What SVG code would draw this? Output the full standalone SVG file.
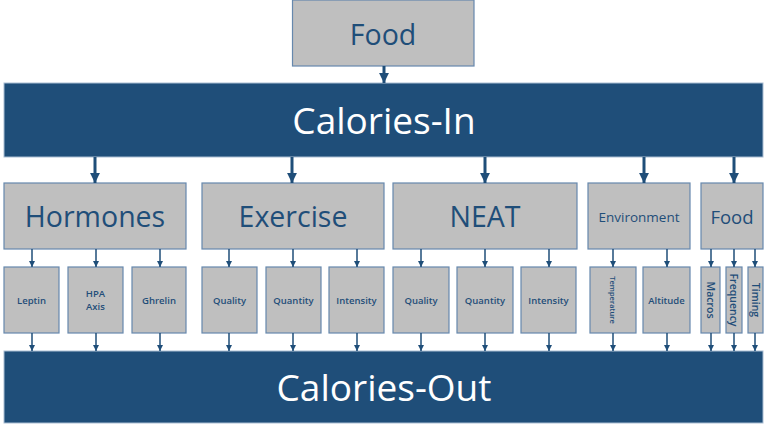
<svg xmlns="http://www.w3.org/2000/svg" width="768" height="439" viewBox="0 0 768 439">
<defs>
<style>
.box{fill:#bfbfbf;stroke:#6688ad;stroke-width:1.2}
.bar{fill:#1f4e79;stroke:#a9bdd3;stroke-width:1}
.t{font-family:"Open Sans","Liberation Sans",sans-serif;fill:#1f4e79;text-anchor:middle;font-weight:500}
.s{font-family:"Open Sans","Liberation Sans",sans-serif;fill:#1f4e79;text-anchor:middle;font-weight:600}
.w{font-family:"Open Sans","Liberation Sans",sans-serif;fill:#ffffff;text-anchor:middle;font-weight:500}
.big{stroke:#1f4e79;stroke-width:3;fill:none}
.sm{stroke:#1f4e79;stroke-width:1.5;fill:none}
</style>
<marker id="ab" viewBox="0 0 10 10" refX="10" refY="5" markerWidth="3.3" markerHeight="3.3" orient="auto" markerUnits="strokeWidth"><path d="M0,0L10,5L0,10z" fill="#1f4e79"/></marker>
<marker id="as" viewBox="0 0 10 10" refX="10" refY="5" markerWidth="4" markerHeight="4" orient="auto" markerUnits="strokeWidth"><path d="M0,0L10,5L0,10z" fill="#1f4e79"/></marker>
</defs>
<rect width="768" height="439" fill="#ffffff"/>
<g id="food-top"><rect class="box" x="292.5" y="0" width="181.5" height="66"/><text class="t" x="383" y="45" font-size="28.5">Food</text></g>
<g id="calories-in"><rect class="bar" x="4" y="83" width="759" height="74"/><text class="w" x="384" y="134" font-size="37">Calories-In</text></g>
<g id="hormones"><rect class="box" x="4" y="183" width="182" height="66"/><text class="t" x="95" y="227" font-size="28.5">Hormones</text></g>
<g id="exercise"><rect class="box" x="202" y="183" width="182" height="66"/><text class="t" x="293" y="227" font-size="28.5">Exercise</text></g>
<g id="neat"><rect class="box" x="393" y="183" width="184" height="66"/><text class="t" x="485" y="227" font-size="28.5">NEAT</text></g>
<g id="environment"><rect class="box" x="588" y="183" width="102" height="66"/><text class="t" x="639" y="222" font-size="13.5">Environment</text></g>
<g id="food"><rect class="box" x="701" y="183" width="62" height="66"/><text class="t" x="732" y="224" font-size="18.5">Food</text></g>
<g id="leptin"><rect class="box" x="4" y="267" width="55" height="66"/><text class="s" x="31.5" y="304" font-size="9.5">Leptin</text></g>
<g id="hpa"><rect class="box" x="68" y="267" width="55" height="66"/><text class="s" x="95.5" y="297" font-size="9.5">HPA</text><text class="s" x="95.5" y="310" font-size="9.5">Axis</text></g>
<g id="ghrelin"><rect class="box" x="132" y="267" width="54" height="66"/><text class="s" x="159" y="304" font-size="9.5">Ghrelin</text></g>
<g id="ex-quality"><rect class="box" x="202" y="267" width="55" height="66"/><text class="s" x="229.5" y="304" font-size="9.5">Quality</text></g>
<g id="ex-quantity"><rect class="box" x="266" y="267" width="55" height="66"/><text class="s" x="293.5" y="304" font-size="9.5">Quantity</text></g>
<g id="ex-intensity"><rect class="box" x="329" y="267" width="55" height="66"/><text class="s" x="356.5" y="304" font-size="9.5">Intensity</text></g>
<g id="neat-quality"><rect class="box" x="393" y="267" width="56" height="66"/><text class="s" x="421" y="304" font-size="9.5">Quality</text></g>
<g id="neat-quantity"><rect class="box" x="457" y="267" width="56" height="66"/><text class="s" x="485" y="304" font-size="9.5">Quantity</text></g>
<g id="neat-intensity"><rect class="box" x="521" y="267" width="55" height="66"/><text class="s" x="548.5" y="304" font-size="9.5">Intensity</text></g>
<g id="temperature"><rect class="box" x="590" y="267" width="46" height="66"/><text class="s" transform="translate(613,300) rotate(90)" y="3" font-size="7.5">Temperature</text></g>
<g id="altitude"><rect class="box" x="643" y="267" width="47" height="66"/><text class="s" x="666.5" y="304" font-size="9.5">Altitude</text></g>
<g id="macros"><rect class="box" x="701" y="267" width="19" height="66"/><text class="s" transform="translate(710.5,300) rotate(90)" y="3.8" font-size="10.5">Macros</text></g>
<g id="frequency"><rect class="box" x="726" y="267" width="16" height="66"/><text class="s" transform="translate(734,300) rotate(90)" y="3.8" font-size="10.5">Frequency</text></g>
<g id="timing"><rect class="box" x="748" y="267" width="15" height="66"/><text class="s" transform="translate(755.5,300) rotate(90)" y="3.8" font-size="10.5">Timing</text></g>
<g id="calories-out"><rect class="bar" x="4" y="351" width="759" height="72"/><text class="w" x="384" y="401" font-size="37">Calories-Out</text></g>
<g id="connectors">
<line class="big" x1="384" y1="66" x2="384" y2="83" marker-end="url(#ab)"/>
<line class="big" x1="95" y1="157" x2="95" y2="183" marker-end="url(#ab)"/>
<line class="big" x1="292" y1="157" x2="292" y2="183" marker-end="url(#ab)"/>
<line class="big" x1="485" y1="157" x2="485" y2="183" marker-end="url(#ab)"/>
<line class="big" x1="644" y1="157" x2="644" y2="183" marker-end="url(#ab)"/>
<line class="big" x1="734" y1="157" x2="734" y2="183" marker-end="url(#ab)"/>
<g>
<line class="sm" x1="32" y1="249" x2="32" y2="267" marker-end="url(#as)"/>
<line class="sm" x1="96" y1="249" x2="96" y2="267" marker-end="url(#as)"/>
<line class="sm" x1="160" y1="249" x2="160" y2="267" marker-end="url(#as)"/>
<line class="sm" x1="229" y1="249" x2="229" y2="267" marker-end="url(#as)"/>
<line class="sm" x1="293" y1="249" x2="293" y2="267" marker-end="url(#as)"/>
<line class="sm" x1="357" y1="249" x2="357" y2="267" marker-end="url(#as)"/>
<line class="sm" x1="421" y1="249" x2="421" y2="267" marker-end="url(#as)"/>
<line class="sm" x1="485" y1="249" x2="485" y2="267" marker-end="url(#as)"/>
<line class="sm" x1="549" y1="249" x2="549" y2="267" marker-end="url(#as)"/>
<line class="sm" x1="613" y1="249" x2="613" y2="267" marker-end="url(#as)"/>
<line class="sm" x1="667" y1="249" x2="667" y2="267" marker-end="url(#as)"/>
<line class="sm" x1="711" y1="249" x2="711" y2="267" marker-end="url(#as)"/>
<line class="sm" x1="734" y1="249" x2="734" y2="267" marker-end="url(#as)"/>
<line class="sm" x1="755" y1="249" x2="755" y2="267" marker-end="url(#as)"/>
</g>
<g>
<line class="sm" x1="32" y1="333" x2="32" y2="351" marker-end="url(#as)"/>
<line class="sm" x1="96" y1="333" x2="96" y2="351" marker-end="url(#as)"/>
<line class="sm" x1="160" y1="333" x2="160" y2="351" marker-end="url(#as)"/>
<line class="sm" x1="229" y1="333" x2="229" y2="351" marker-end="url(#as)"/>
<line class="sm" x1="293" y1="333" x2="293" y2="351" marker-end="url(#as)"/>
<line class="sm" x1="357" y1="333" x2="357" y2="351" marker-end="url(#as)"/>
<line class="sm" x1="421" y1="333" x2="421" y2="351" marker-end="url(#as)"/>
<line class="sm" x1="485" y1="333" x2="485" y2="351" marker-end="url(#as)"/>
<line class="sm" x1="549" y1="333" x2="549" y2="351" marker-end="url(#as)"/>
<line class="sm" x1="613" y1="333" x2="613" y2="351" marker-end="url(#as)"/>
<line class="sm" x1="667" y1="333" x2="667" y2="351" marker-end="url(#as)"/>
<line class="sm" x1="711" y1="333" x2="711" y2="351" marker-end="url(#as)"/>
<line class="sm" x1="734" y1="333" x2="734" y2="351" marker-end="url(#as)"/>
<line class="sm" x1="755" y1="333" x2="755" y2="351" marker-end="url(#as)"/>
</g>
</g>
</svg>
